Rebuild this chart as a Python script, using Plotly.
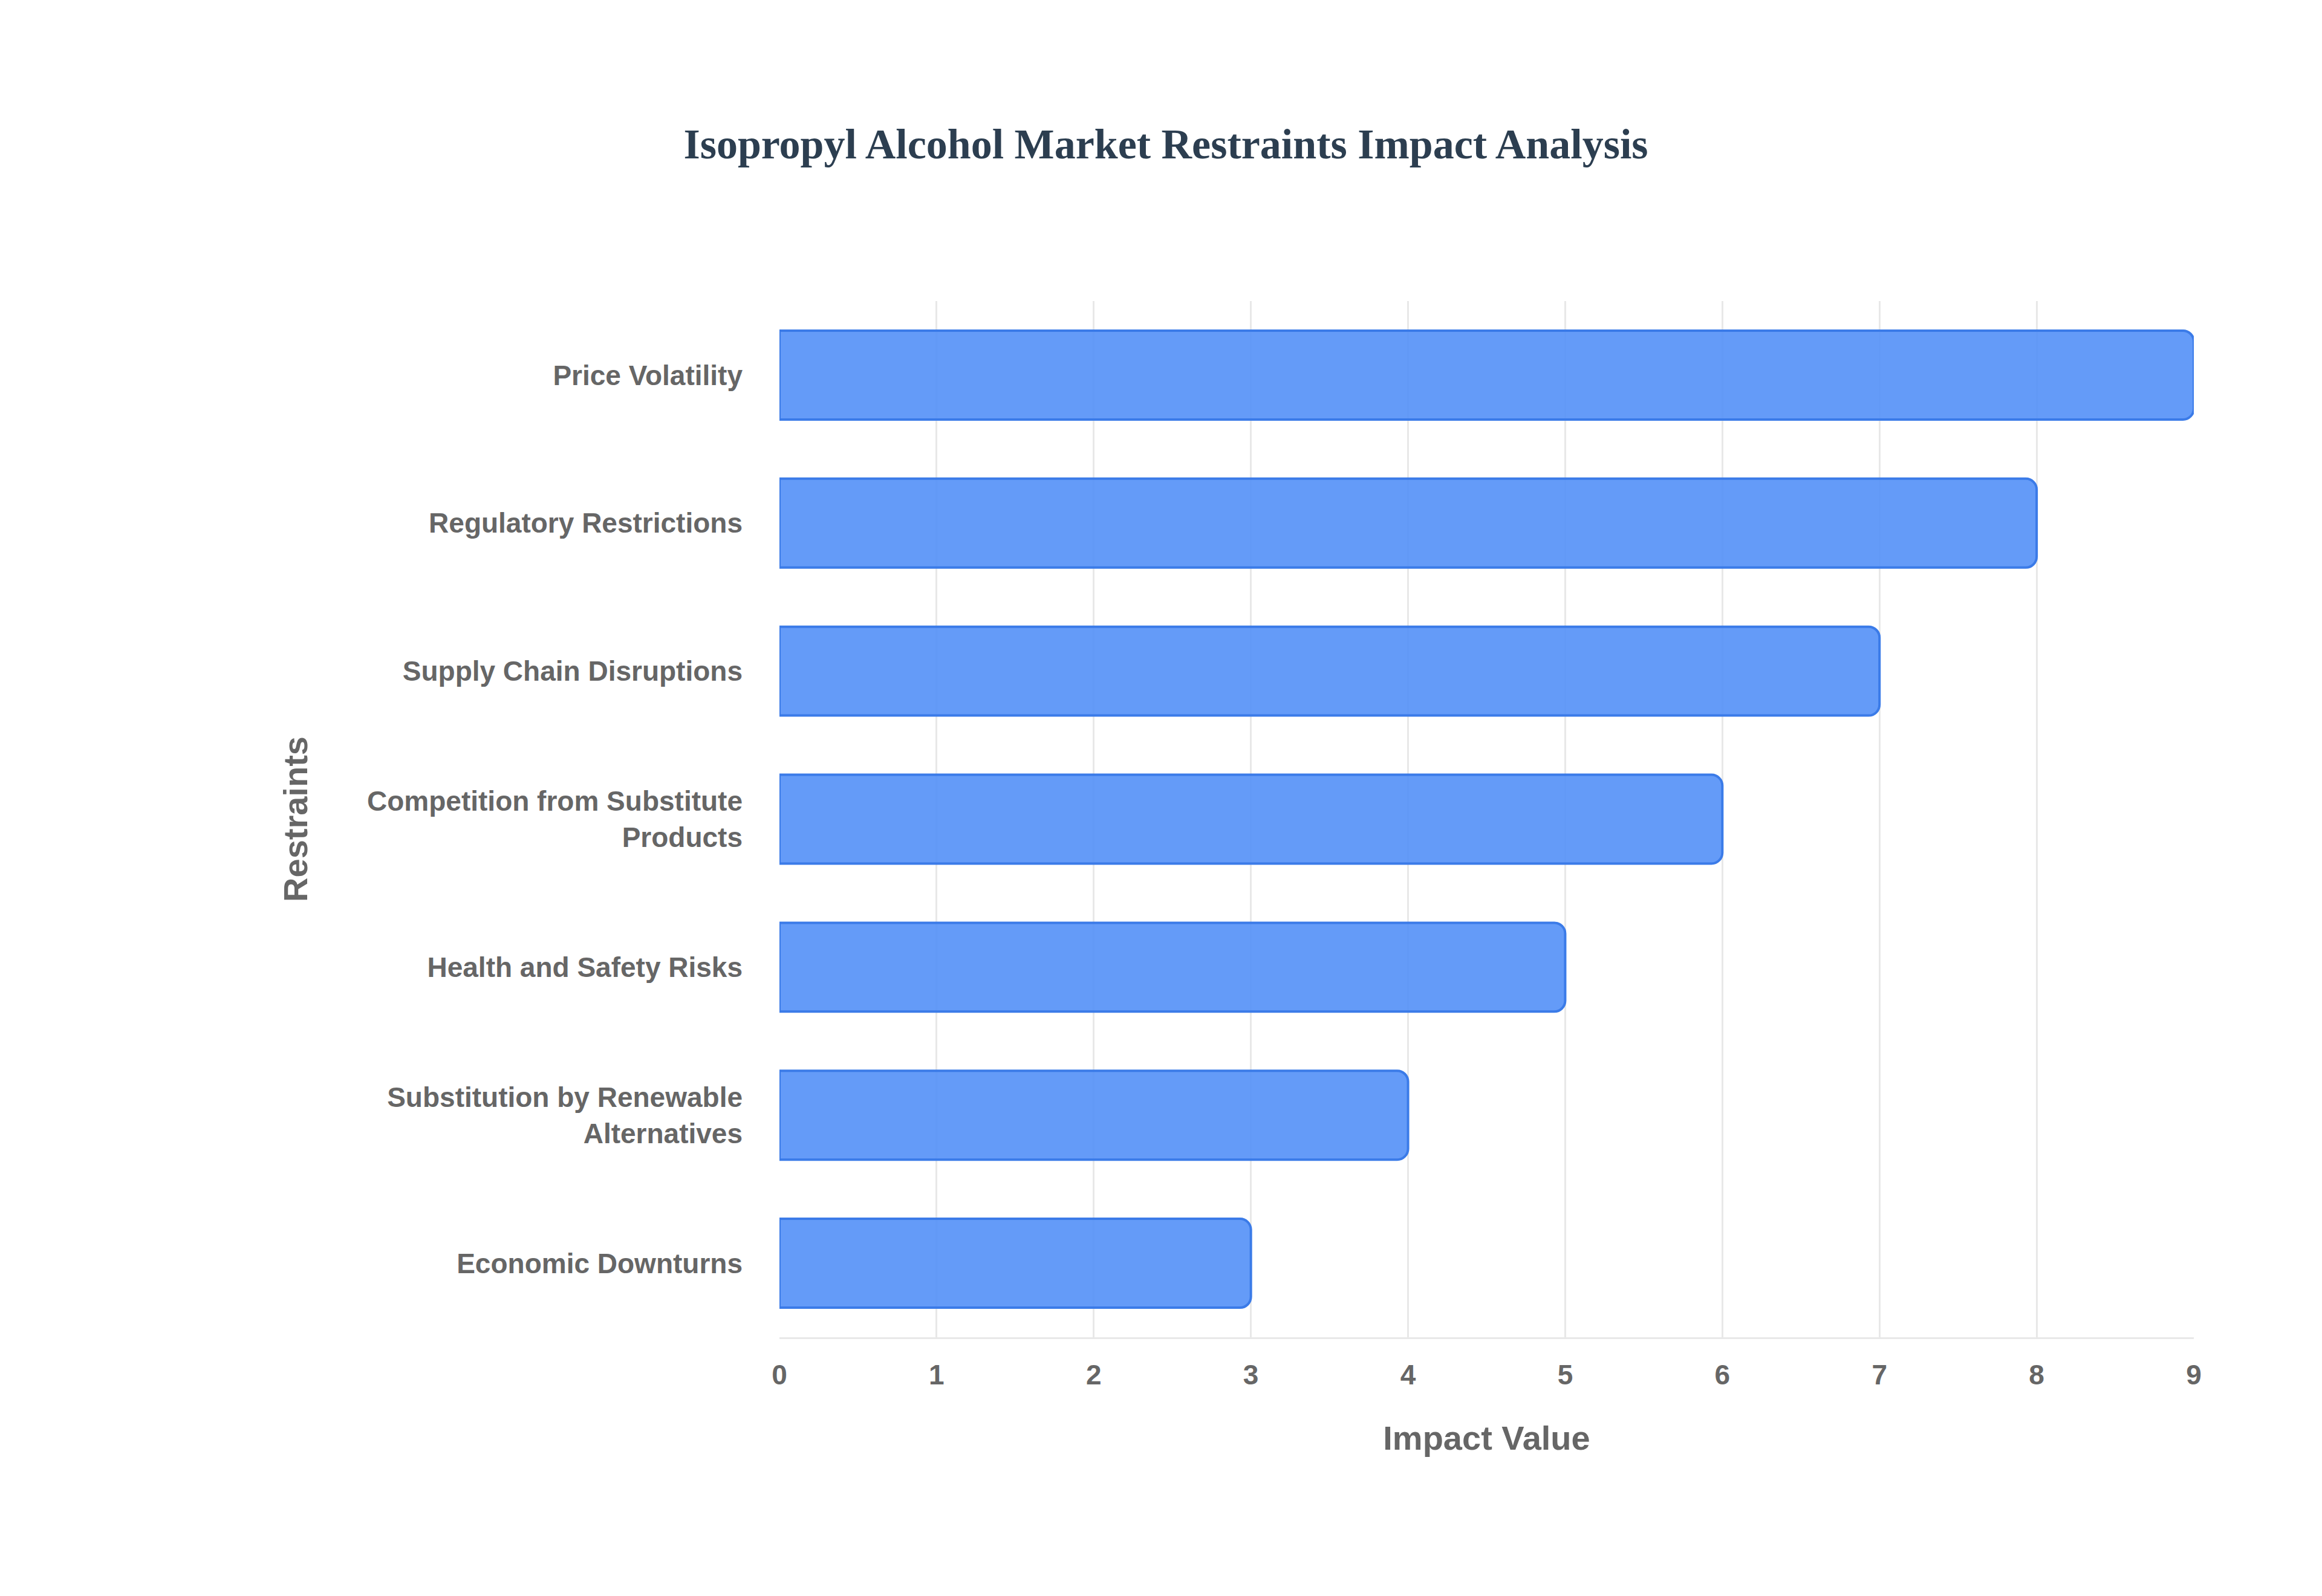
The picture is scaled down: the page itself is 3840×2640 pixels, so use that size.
import plotly.graph_objects as go

categories = ["Price Volatility", "Regulatory Restrictions", "Supply Chain Disruptions",
              "Competition from Substitute<br>Products", "Health and Safety Risks",
              "Substitution by Renewable<br>Alternatives", "Economic Downturns"]
values = [9, 8, 7, 6, 5, 4, 3]

fig = go.Figure(go.Bar(
    x=values, y=categories, orientation="h",
    marker=dict(color="rgba(79,141,247,0.88)", line=dict(color="#3b7be8", width=4)),
))
fig.update_layout(
    width=3840, height=2640,
    paper_bgcolor="white", plot_bgcolor="white",
    margin=dict(l=1281, r=220, t=490, b=436),
    bargap=0.4, barcornerradius=18,
    title=dict(text="<b>Isopropyl Alcohol Market Restraints Impact Analysis</b>",
               x=0.5, xanchor="center", y=0.913, yanchor="middle",
               font=dict(family="Liberation Serif", size=70, color="#2c3e50")),
    font=dict(family="Liberation Sans", color="#666666"),
    showlegend=False,
)
fig.update_xaxes(range=[0, 9], dtick=1, showgrid=True, gridcolor="#e8e8e8", gridwidth=3,
                 zeroline=False, showline=True, linecolor="#e8e8e8", linewidth=3,
                 tickfont=dict(size=46, family="Liberation Sans", color="#666666"),
                 ticks="", ticklabelstandoff=20,
                 title=dict(text="<b>Impact Value</b>", font=dict(size=56, color="#666666"), standoff=60),
                 tickprefix="<b>", ticksuffix="</b>")
fig.update_yaxes(autorange="reversed", showgrid=False, showline=False,
                 tickfont=dict(size=46, family="Liberation Sans", color="#666666"),
                 ticks="", ticklabelstandoff=60,
                 title=dict(text="<b>Restraints</b>", font=dict(size=56, color="#666666"), standoff=80),
                 tickprefix="<b>", ticksuffix="</b>")
fig.write_html("out.html")
